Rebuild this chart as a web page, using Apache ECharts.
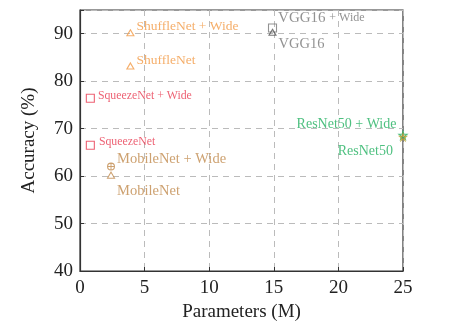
<!DOCTYPE html>
<html>
<head>
<meta charset="utf-8">
<script src="https://cdn.jsdelivr.net/npm/echarts@6/dist/echarts.min.js"></script>
<style>html,body{margin:0;padding:0;background:#fff}#c{width:474px;height:327px}</style>
</head>
<body>
<div id="c"></div>
<script>
// Data
const modelNames = ['ShuffleNet + Wide','ShuffleNet','SqueezeNet + Wide','SqueezeNet','MobileNet + Wide','MobileNet','VGG16 + Wide','VGG16','ResNet50 + Wide','ResNet50'];
const paramsM   = [3.9, 3.9, 0.8, 0.8, 2.4, 2.4, 14.9, 14.9, 25.0, 25.0];
const accuracy  = [90.2, 83.2, 76.4, 66.5, 62.0, 60.2, 91.2, 90.3, 68.6, 68.2];
const xTicks = [0, 5, 10, 15, 20, 25];
const yTicks = [40, 50, 60, 70, 80, 90];

const circlePlus = 'path://M50,0A50,50,0,1,1,49.9,0Z M50,14A36,36,0,1,0,50.1,14Z M44,4H56V96H44Z M4,44H96V56H4Z';
const star = 'path://M50,0L61,35H98L68,57L79,92L50,70L21,92L32,57L2,35H39Z';

const styles = [
  {sym:'triangle', size:[7,6], color:'#f39a45', pos:'right', dist:2, off:[0,-6], fs:13.5},
  {sym:'triangle', size:[7,6], color:'#f39a45', pos:'right', dist:2, off:[0,-6], fs:13.5},
  {sym:'rect', size:8, color:'#e83a50', pos:'right', dist:3, off:[0,-2], fs:11.8},
  {sym:'rect', size:8, color:'#e83a50', pos:'right', dist:4, off:[0,-3], fs:11.8},
  {sym:circlePlus, size:8, color:'#c08a4c', pos:'right', dist:2, off:[0,-7], fs:14.5, filled:true},
  {sym:'triangle', size:[7,6], color:'#c08a4c', pos:'right', dist:2, off:[0,16], fs:14.5},
  {sym:'rect', size:8, color:'#777777', pos:'right', dist:1, off:[0,-10], fs:14.5, rich:true},
  {sym:'triangle', size:[7,6], color:'#555555', pos:'right', dist:2, off:[0,12], fs:14.5},
  {sym:star, size:8, color:'#22b060', pos:'left', dist:2, off:[0,-11], fs:14},
  {sym:star, size:7, color:'#b8a030', pos:'left', dist:4, off:[-2,14], fs:14}
];
const labelColors = ['#f39a45','#f39a45','#e83a50','#e83a50','#c08a4c','#c08a4c','#777777','#777777','#22b060','#22b060'];

const series = modelNames.map((n,i)=>{
  const s = styles[i];
  const lab = {
    show:true, position:s.pos, distance:s.dist, offset:s.off,
    color:labelColors[i], fontFamily:'Liberation Serif', fontSize:s.fs,
    formatter: s.rich ? '{a|VGG16 }{b|+ Wide}' : '{b}'
  };
  if (s.rich) lab.rich = {a:{fontSize:15,color:'#777',fontFamily:'Liberation Serif'}, b:{fontSize:12,color:'#777',fontFamily:'Liberation Serif'}};
  return {
    type:'scatter', name:n, symbol:s.sym, symbolSize:s.size,
    itemStyle: s.filled ? {color:s.color, borderWidth:0}
                        : {color:'rgba(255,255,255,0)', borderColor:s.color, borderWidth:1.1},
    label:lab,
    data:[{name:n, value:[paramsM[i], accuracy[i]]}],
    z: 10
  };
});

const chart = echarts.init(document.getElementById('c'), null, {renderer:'canvas'});
chart.setOption({
  animation:false,
  grid:{left:80, right:71, top:10, bottom:50, show:true, borderColor:'#333', borderWidth:1.2, containLabel:false},
  xAxis:{
    type:'value', min:xTicks[0], max:xTicks[xTicks.length-1], interval:5,
    name:'Parameters (M)', nameLocation:'middle', nameGap:32,
    nameTextStyle:{fontFamily:'Liberation Serif', fontSize:19, color:'#222'},
    axisLine:{show:true, lineStyle:{color:'#333', width:1.2}},
    axisTick:{show:true, inside:true, length:4, lineStyle:{color:'#333'}},
    axisLabel:{fontFamily:'Liberation Serif', fontSize:19, color:'#222', margin:8},
    splitLine:{show:true, lineStyle:{color:'#bbb', type:[6,5], width:1}}
  },
  yAxis:{
    type:'value', min:40, max:95, interval:10,
    name:'Accuracy (%)', nameLocation:'middle', nameGap:41, nameRotate:90,
    nameTextStyle:{fontFamily:'Liberation Serif', fontSize:19, color:'#222'},
    axisLine:{show:true, lineStyle:{color:'#333', width:1.2}},
    axisTick:{show:true, inside:true, length:4, lineStyle:{color:'#333'}},
    axisLabel:{fontFamily:'Liberation Serif', fontSize:19, color:'#222', margin:7,
      formatter:v => yTicks.indexOf(v) >= 0 ? String(v) : ''},
    splitLine:{show:true, lineStyle:{color:'#bbb', type:[6,5], width:1}}
  },
  series:series
});
</script>
</body>
</html>
